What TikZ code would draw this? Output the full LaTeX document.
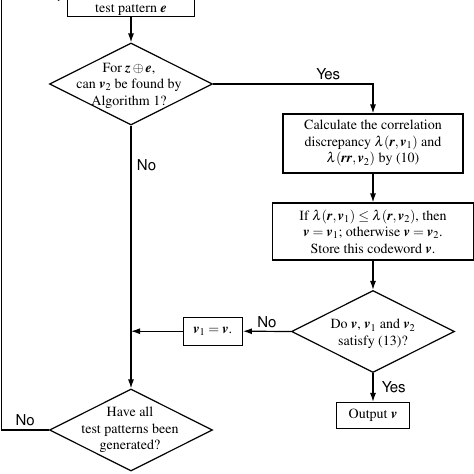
\documentclass[tikz,border=0pt]{standalone}
\usepackage[T1]{fontenc}
\usepackage{amsmath}
\usepackage{mathptmx}
\usepackage[scaled=1]{helvet}
\usepackage{tikz}
\usetikzlibrary{shapes.geometric, arrows.meta, positioning, calc}

\newcommand{\bvec}[1]{\mbox{\normalfont\bfseries\itshape #1}}

\begin{document}
\begin{tikzpicture}[x=1pt, y=-1pt, line width=1.2pt,
    box/.style={draw, rectangle, align=center, inner sep=0pt, font=\fontsize{14}{16.5}\selectfont},
    dec/.style={draw, diamond, inner sep=0pt, minimum width=163pt, minimum height=82pt},
    txt/.style={align=center, inner sep=0pt, font=\fontsize{14}{16.5}\selectfont},
    lbl/.style={font=\sffamily\fontsize{15}{18}\selectfont},
    arr/.style={-{Latex[length=9pt, width=6pt]}}]
                \useasboundingbox (0,0) rectangle (474,474);
                \clip (0,0) rectangle (474,474);

                \node[box, minimum width=127pt, text height=22pt, text depth=3pt, inner ysep=0.5pt, anchor=base] (gen) at (131,12.7) {test pattern $\bvec{e}$};
                \node[dec] (test) at (131,84) {};
                \node[txt] (testtxt) at (129,85.5) {For $\bvec{z}\oplus\bvec{e}$,\\ can $\bvec{v}_2$ be found by\\ Algorithm 1?};
                \node[box, minimum width=180pt, minimum height=59pt] (calc) at (373,143.5) {Calculate the correlation\\ discrepancy $\lambda(\bvec{r},\bvec{v}_1)$ and\\ $\lambda(\bvec{rr},\bvec{v}_2)$ by (10)};
                \node[box, minimum width=201pt, minimum height=57pt] (pick) at (373,231.5) {If $\lambda(\bvec{r},\bvec{v}_1)\le\lambda(\bvec{r},\bvec{v}_2)$, then\\ $\bvec{v}=\bvec{v}_1$; otherwise $\bvec{v}=\bvec{v}_2$.\\ Store this codeword $\bvec{v}$.};
                \node[dec] (chk) at (373,331.5) {};
                \node[txt] (chktxt) at (373,334) {Do $\bvec{v}$, $\bvec{v}_1$ and $\bvec{v}_2$\\ satisfy (13)?};
                \node[box, minimum width=59pt, minimum height=28pt] (upd) at (212.8,331.2) {$\bvec{v}_1=\bvec{v}$.};
                \node[box, minimum width=73pt, minimum height=26pt] (out) at (373,415.5) {Output $\bvec{v}$};
                \node[dec] (all) at (131,430) {};
                \node[txt] (alltxt) at (130,430) {Have all\\ test patterns been\\ generated?};
                \coordinate (back) at (1.5,-2);

                \draw[arr] (gen.south) -- (test.north);
                \draw[arr] (test.east) -| node[lbl, pos=0.36, above] (yes1) {Yes} (calc.north);
                \draw[arr] (calc.south) -- (pick.north);
                \draw[arr] (pick.south) -- (chk.north);
                \draw[arr] (chk.west) -- node[lbl, above] (no2) {No} (upd.east);
                \draw[arr] (upd.west) -- (upd.west -| test.south);
                \draw[arr] (chk.south) -- node[lbl, right, xshift=5pt] (yes2) {Yes} (out.north);
                \draw[arr] (test.south) -- node[lbl, pos=0.15, right, xshift=2pt] (no1) {No} (all.north);
                \draw[arr] (all.west) -- node[lbl, above] (no3) {No} (all.west -| back) -- (back) -- (back -| gen.west);
\end{tikzpicture}
\end{document}
